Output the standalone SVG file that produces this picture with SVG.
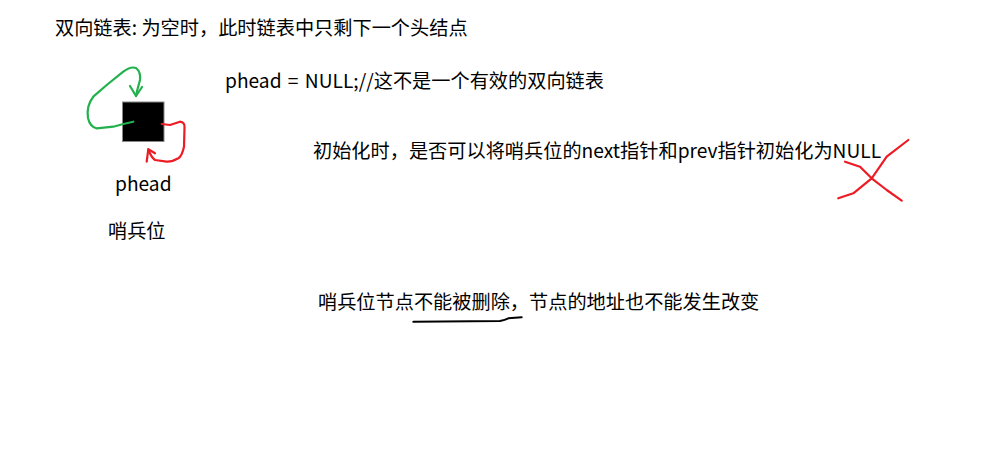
<svg xmlns="http://www.w3.org/2000/svg" width="997" height="472" viewBox="0 0 997 472">
<style>
text{font-family:"Noto Sans CJK SC","Noto Sans",sans-serif;font-size:19.2px;fill:#000}
.ink{fill:none;stroke-linecap:round;stroke-linejoin:round}
.g{stroke:#22b14c;stroke-width:2.2}
.r{stroke:#ed1c24;stroke-width:2.2}
.k{stroke:#000;stroke-width:2}
</style>
<rect width="997" height="472" fill="#fff"/>
<g id="title"><text x="55" y="35">双向链表: 为空时，此时链表中只剩下一个头结点</text></g>
<g id="note-null"><text x="225" y="88" word-spacing="2">phead = NULL;//这不是一个有效的双向链表</text></g>
<g id="question"><text x="313" y="158">初始化时，是否可以将哨兵位的next指针和prev指针初始化为NULL</text></g>
<g id="node-phead">
<rect x="122.5" y="102" width="41.5" height="39.5" fill="#000" stroke="#888" stroke-width="1"/>
<text x="115" y="191">phead</text>
<text x="108" y="238">哨兵位</text>
</g>
<g id="connectors">
<path class="ink g" d="M133.3,121.7 L123.3,124 L113.3,126.7 L96.7,128.3 Q90,127 88,118 Q86,106 93.3,96.7 L106.7,85 L123.3,71.7 Q131,66 136,68 Q141,72 140,80 L137.3,90 L136,96"/>
<path class="ink g" d="M130,86 L136,96 L142,87"/>
<path class="ink r" d="M161.7,124 L170,125 L180,121.7 Q185,122 184.5,128 L184,146.7 Q182,156 178.3,158.3 Q172,162 166.7,161.7 L155,160 Q151,157 148.3,149.3"/>
<path class="ink r" d="M146.7,161.7 L148.3,149.3 L155,153.3"/>
</g>
<g id="cross">
<path class="ink r" d="M908.3,140 L886.7,156.7 L871.7,178.3 L853.3,193.3 L838.3,198.3"/>
<path class="ink r" d="M845,161.7 L860,166.7 L871.7,178.3 L886.7,190 L901.7,200.7"/>
</g>
<g id="statement">
<text x="318" y="309">哨兵位节点不能被删除，节点的地址也不能发生改变</text>
<path class="ink k" d="M413.3,321.7 L500,321 Q505,320 508.3,318.3 L521.7,317.3"/>
</g>
</svg>
